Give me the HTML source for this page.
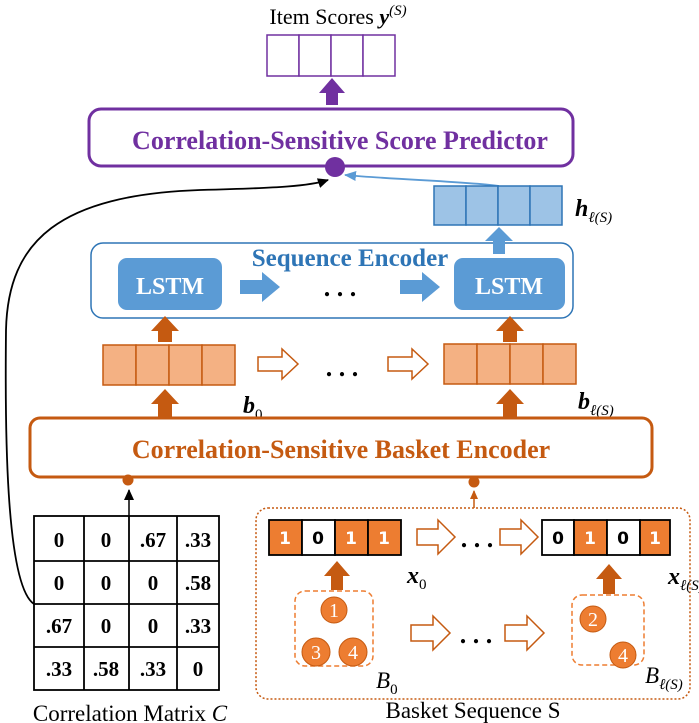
<!DOCTYPE html>
<html><head><meta charset="utf-8"><style>
html,body{margin:0;padding:0;background:#fff;}
svg{display:block;font-family:"Liberation Serif",serif;}
</style></head><body>
<svg width="699" height="723" viewBox="0 0 699 723" xmlns="http://www.w3.org/2000/svg">
<defs>
<marker id="ab" markerWidth="12" markerHeight="12" refX="10" refY="6" orient="auto" markerUnits="userSpaceOnUse"><path d="M0,1 L11,6 L0,11 Z" fill="#000"/></marker>
<marker id="abl" markerWidth="14" markerHeight="12" refX="11" refY="6" orient="auto" markerUnits="userSpaceOnUse"><path d="M0,1 L12,6 L0,11 Z" fill="#5b9bd5"/></marker>
<marker id="ao" markerWidth="10" markerHeight="10" refX="8" refY="5" orient="auto" markerUnits="userSpaceOnUse"><path d="M0,1 L9,5 L0,9 Z" fill="#c55a11"/></marker>
</defs>

<!-- Item scores -->
<text x="338" y="24" font-size="22" text-anchor="middle">Item Scores <tspan font-weight="bold" font-style="italic">y</tspan><tspan font-size="15" dy="-9" font-style="italic">(S)</tspan></text>
<g fill="#fff" stroke="#7030a0" stroke-width="1.5">
<rect x="267" y="35" width="32" height="41"/><rect x="299" y="35" width="32" height="41"/><rect x="331" y="35" width="32" height="41"/><rect x="363" y="35" width="32" height="41"/>
</g>
<path d="M326,105 L326,93 L319,93 L332,78 L345,93 L338,93 L338,105 Z" fill="#7030a0"/>

<!-- Predictor -->
<rect x="89" y="109" width="484" height="57" rx="12" fill="#fff" stroke="#7030a0" stroke-width="3"/>
<text x="340" y="149" font-size="26" font-weight="bold" fill="#7030a0" text-anchor="middle">Correlation-Sensitive Score Predictor</text>

<!-- curves -->
<path d="M34,604 C5,585 5,420 6,330 C8,240 60,195 200,190 C280,188 310,186 328,180" fill="none" stroke="#000" stroke-width="1.8" marker-end="url(#ab)"/>
<path d="M499,186 C460,181 400,180 345,175" fill="none" stroke="#5b9bd5" stroke-width="1.8" marker-end="url(#abl)"/>
<circle cx="335" cy="167" r="10" fill="#7030a0"/>

<!-- h cells -->
<g fill="#9dc3e6" stroke="#2e75b6" stroke-width="1.5">
<rect x="434" y="186" width="32" height="39"/><rect x="466" y="186" width="32" height="39"/><rect x="498" y="186" width="32" height="39"/><rect x="530" y="186" width="32" height="39"/>
</g>
<text x="575" y="216" font-size="24" font-weight="bold" font-style="italic">h<tspan font-size="15" font-weight="normal" dy="6">ℓ(S)</tspan></text>

<!-- Sequence encoder -->
<rect x="91" y="243" width="482" height="75" rx="12" fill="#fff" stroke="#2e75b6" stroke-width="1.5"/>
<path d="M493,254 L493,241 L485,241 L499,227 L513,241 L505,241 L505,254 Z" fill="#5b9bd5"/>
<text x="350" y="266" font-size="25" font-weight="bold" fill="#2e75b6" text-anchor="middle">Sequence Encoder</text>
<rect x="118" y="258" width="104" height="52" rx="9" fill="#5b9bd5"/>
<text x="170" y="294" font-size="24" font-weight="bold" fill="#fff" text-anchor="middle">LSTM</text>
<rect x="454" y="258" width="111" height="52" rx="9" fill="#5b9bd5"/>
<text x="509" y="294" font-size="24" font-weight="bold" fill="#fff" text-anchor="middle">LSTM</text>
<path d="M240,280 L262,280 L262,272 L280,287 L262,302 L262,294 L240,294 Z" fill="#5b9bd5"/>
<path d="M400,280 L422,280 L422,272 L440,287 L422,302 L422,294 L400,294 Z" fill="#5b9bd5"/>
<text x="340" y="296" font-size="26" font-weight="bold" text-anchor="middle">. . .</text>

<!-- b cells -->
<path d="M158,342 L158,331 L151,331 L165,316 L179,331 L172,331 L172,342 Z" fill="#c55a11"/>
<path d="M503,342 L503,331 L496,331 L510,316 L524,331 L517,331 L517,342 Z" fill="#c55a11"/>
<g fill="#f4b183" stroke="#c55a11" stroke-width="1.5">
<rect x="103" y="345" width="33" height="40"/><rect x="136" y="345" width="33" height="40"/><rect x="169" y="345" width="33" height="40"/><rect x="202" y="345" width="33" height="40"/>
<rect x="444" y="344" width="33" height="40"/><rect x="477" y="344" width="33" height="40"/><rect x="510" y="344" width="33" height="40"/><rect x="543" y="344" width="33" height="40"/>
</g>
<g fill="#fff" stroke="#c55a11" stroke-width="1.5">
<path d="M258,357 L282,357 L282,349 L298,364 L282,379 L282,371 L258,371 Z"/>
<path d="M388,357 L412,357 L412,349 L428,364 L412,379 L412,371 L388,371 Z"/>
</g>
<text x="342" y="376" font-size="26" font-weight="bold" text-anchor="middle">. . .</text>
<text x="243" y="413" font-size="24" font-weight="bold" font-style="italic">b<tspan font-size="15" font-weight="normal" font-style="normal" dy="6">0</tspan></text>
<text x="578" y="409" font-size="24" font-weight="bold" font-style="italic">b<tspan font-size="15" font-weight="normal" dy="6">ℓ(S)</tspan></text>
<path d="M158,417 L158,404 L151,404 L165,389 L179,404 L172,404 L172,417 Z" fill="#c55a11"/>
<path d="M503,417 L503,404 L496,404 L510,389 L524,404 L517,404 L517,417 Z" fill="#c55a11"/>

<!-- Basket encoder -->
<rect x="30" y="418" width="622" height="59" rx="10" fill="#fff" stroke="#c55a11" stroke-width="3"/>
<text x="341" y="458" font-size="26" font-weight="bold" fill="#c55a11" text-anchor="middle">Correlation-Sensitive Basket Encoder</text>
<circle cx="128" cy="480" r="5.5" fill="#c55a11"/>
<circle cx="474" cy="482" r="5.5" fill="#c55a11"/>
<line x1="129" y1="516" x2="129" y2="490" stroke="#000" stroke-width="1.5" marker-end="url(#ab)"/>
<line x1="474" y1="508" x2="474" y2="491" stroke="#c55a11" stroke-width="1.5" marker-end="url(#ao)"/>

<!-- Matrix -->
<g fill="none" stroke="#000" stroke-width="1.8">
<rect x="34" y="516" width="185" height="174"/>
<line x1="84" y1="516" x2="84" y2="690"/><line x1="129" y1="516" x2="129" y2="690"/><line x1="177" y1="516" x2="177" y2="690"/>
<line x1="34" y1="561" x2="219" y2="561"/><line x1="34" y1="604" x2="219" y2="604"/><line x1="34" y1="647" x2="219" y2="647"/>
</g>
<g font-size="21" font-weight="bold" text-anchor="middle">
<text x="59" y="547">0</text><text x="106" y="547">0</text><text x="153" y="547">.67</text><text x="198" y="547">.33</text>
<text x="59" y="590">0</text><text x="106" y="590">0</text><text x="153" y="590">0</text><text x="198" y="590">.58</text>
<text x="59" y="633">.67</text><text x="106" y="633">0</text><text x="153" y="633">0</text><text x="198" y="633">.33</text>
<text x="59" y="676">.33</text><text x="106" y="676">.58</text><text x="153" y="676">.33</text><text x="198" y="676">0</text>
</g>
<text x="130" y="721" font-size="23" text-anchor="middle">Correlation Matrix <tspan font-style="italic">C</tspan></text>

<!-- Basket sequence -->
<rect x="256" y="508" width="434" height="191" rx="12" fill="none" stroke="#c55a11" stroke-width="1.5" stroke-dasharray="2,2"/>
<g stroke="#000" stroke-width="1.8">
<rect x="269" y="520" width="33" height="35" fill="#ed7d31"/><rect x="302" y="520" width="33" height="35" fill="#fff"/><rect x="335" y="520" width="33" height="35" fill="#ed7d31"/><rect x="368" y="520" width="33" height="35" fill="#ed7d31"/>
<rect x="542" y="520" width="32" height="35" fill="#fff"/><rect x="574" y="520" width="33" height="35" fill="#ed7d31"/><rect x="607" y="520" width="33" height="35" fill="#fff"/><rect x="640" y="520" width="30" height="35" fill="#ed7d31"/>
</g>
<g font-family="'DejaVu Sans',sans-serif" font-size="17" font-weight="bold" text-anchor="middle">
<text x="285" y="544" fill="#fff">1</text><text x="318" y="544">0</text><text x="351" y="544" fill="#fff">1</text><text x="384" y="544" fill="#fff">1</text>
<text x="558" y="544">0</text><text x="590" y="544" fill="#fff">1</text><text x="623" y="544">0</text><text x="655" y="544" fill="#fff">1</text>
</g>
<g fill="#fff" stroke="#c55a11" stroke-width="1.5">
<path d="M417,529 L438,529 L438,520 L455,537 L438,554 L438,545 L417,545 Z"/>
<path d="M500,529 L521,529 L521,520 L538,537 L521,554 L521,545 L500,545 Z"/>
<path d="M411,625 L433,625 L433,616 L450,633 L433,650 L433,641 L411,641 Z"/>
<path d="M505,625 L527,625 L527,616 L544,633 L527,650 L527,641 L505,641 Z"/>
</g>
<text x="477" y="547" font-size="26" font-weight="bold" text-anchor="middle">. . .</text>
<text x="476" y="643" font-size="26" font-weight="bold" text-anchor="middle">. . .</text>
<text x="407" y="583" font-size="24" font-weight="bold" font-style="italic">x<tspan font-size="15" font-weight="normal" font-style="normal" dy="6">0</tspan></text>
<text x="668" y="584" font-size="24" font-weight="bold" font-style="italic">x<tspan font-size="15" font-weight="normal" dy="6">ℓ(S)</tspan></text>
<path d="M331,590 L331,576 L324,576 L337,561 L350,576 L343,576 L343,590 Z" fill="#c55a11"/>
<path d="M603,594 L603,579 L596,579 L609,564 L622,579 L615,579 L615,594 Z" fill="#c55a11"/>
<rect x="295" y="591" width="78" height="75" rx="10" fill="none" stroke="#ed7d31" stroke-width="1.5" stroke-dasharray="5,3"/>
<rect x="572" y="595" width="72" height="70" rx="10" fill="none" stroke="#ed7d31" stroke-width="1.5" stroke-dasharray="5,3"/>
<g fill="#ed7d31" stroke="#c55a11" stroke-width="1">
<circle cx="334" cy="610" r="13"/><circle cx="316" cy="652" r="14"/><circle cx="353" cy="652" r="14"/>
<circle cx="593" cy="619" r="13"/><circle cx="623" cy="655" r="13"/>
</g>
<g fill="#fff" font-size="20" text-anchor="middle">
<text x="334" y="617">1</text><text x="316" y="659">3</text><text x="353" y="659">4</text>
<text x="593" y="626">2</text><text x="623" y="662">4</text>
</g>
<text x="376" y="688" font-size="23" font-style="italic">B<tspan font-size="15" font-style="normal" dy="6">0</tspan></text>
<text x="645" y="683" font-size="23" font-style="italic">B<tspan font-size="15" dy="6">ℓ(S)</tspan></text>
<text x="473" y="718" font-size="23" text-anchor="middle">Basket Sequence S</text>
</svg>
</body></html>
